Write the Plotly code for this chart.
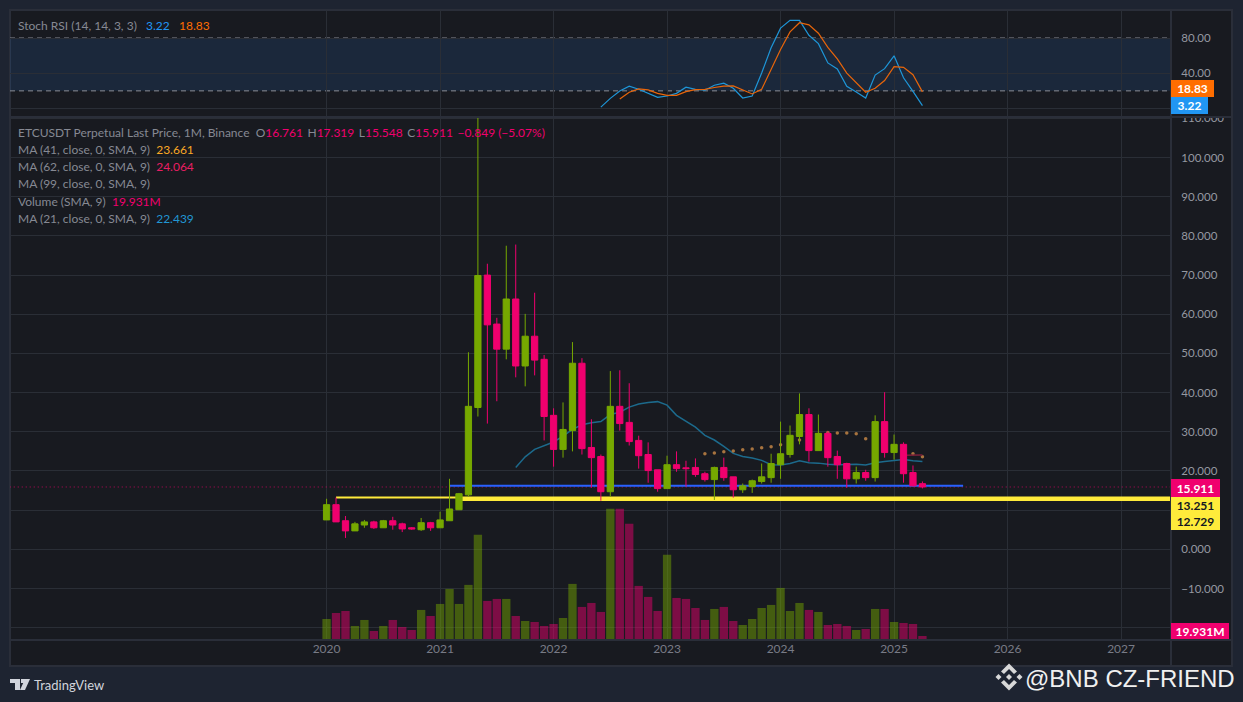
import plotly.graph_objects as go

W, H = 1243, 702

# monthly bars, Jan 2020 .. Apr 2025
months = [f"{y}-{m:02d}" for y in range(2020, 2026) for m in range(1, 13)][:64]
opens = [7.5, 11.4, 7.3, 4.7, 6.2, 7.0, 5.5, 7.3, 6.5, 5.5, 5.0, 6.8,
         5.5, 7.3, 10.1, 13.9, 36.2, 70.0, 57.5, 51.1, 63.9, 46.8, 54.4, 48.5,
         34.2, 25.5, 30.3, 47.5, 26.0, 23.7, 14.7, 36.5, 32.4, 27.8, 24.2, 20.3,
         15.5, 21.6, 20.8, 20.9, 19.3, 17.8, 20.9, 18.5, 15.2, 16.0, 17.3, 18.3,
         21.6, 24.2, 28.8, 34.4, 25.2, 29.6, 23.7, 21.9, 18.0, 19.6, 18.3, 32.6,
         24.7, 26.8, 19.6, 16.761]
highs = [12.9, 13.2, 8.5, 7.0, 7.5, 7.3, 7.5, 8.3, 6.8, 5.7, 8.0, 7.0,
         9.6, 18.0, 14.4, 50.3, 110.5, 72.9, 59.1, 77.5, 77.8, 60.1, 65.5, 49.6,
         36.0, 37.5, 52.9, 48.8, 33.2, 24.2, 45.5, 45.7, 42.4, 29.0, 27.3, 20.3,
         23.9, 25.0, 22.6, 23.2, 19.8, 21.1, 23.4, 18.5, 16.8, 17.8, 21.9, 24.4,
         32.6, 31.6, 39.8, 36.0, 34.4, 30.1, 25.2, 22.1, 21.1, 20.3, 34.2, 40.1,
         29.3, 27.3, 21.4, 17.319]
lows = [7.5, 7.0, 2.9, 4.7, 5.5, 5.2, 5.5, 5.0, 4.4, 5.0, 4.7, 4.7,
        5.5, 7.3, 10.1, 13.4, 33.9, 32.1, 37.8, 48.5, 43.9, 41.6, 44.4, 27.8,
        21.1, 23.4, 25.0, 24.2, 15.7, 12.4, 13.4, 30.3, 26.5, 20.6, 17.0, 14.7,
        15.5, 19.8, 16.0, 18.5, 17.3, 12.6, 17.5, 13.2, 14.4, 14.4, 16.8, 17.0,
        18.0, 23.4, 26.8, 22.4, 25.2, 21.1, 18.0, 15.7, 16.8, 17.5, 17.3, 23.4,
        22.9, 17.0, 16.0, 15.548]
closes = [11.4, 7.0, 4.7, 6.5, 7.0, 5.5, 7.3, 6.2, 5.2, 5.2, 6.8, 5.5,
          7.5, 10.3, 14.2, 36.5, 69.9, 57.3, 51.1, 63.9, 46.8, 54.4, 48.3, 33.9,
          25.5, 30.6, 47.5, 25.7, 23.4, 14.7, 36.5, 32.1, 27.5, 23.9, 20.1, 15.5,
          21.6, 20.6, 20.6, 19.1, 17.8, 20.9, 18.3, 15.2, 16.2, 17.5, 18.5, 21.9,
          24.4, 29.1, 34.4, 25.2, 29.6, 23.4, 21.6, 18.0, 19.6, 18.3, 32.6, 24.7,
          26.8, 19.3, 16.2, 15.911]
volumes = [47.5, 61.5, 66.2, 31.1, 45.2, 19.4, 31.1, 45.2, 28.8, 21.8, 68.6, 54.5,
           82.6, 117.7, 82.6, 127.1, 244.1, 89.6, 94.3, 94.3, 54.5, 42.8, 40.5, 31.1,
           35.8, 49.8, 129.4, 75.6, 84.9, 63.9, 304.9, 304.9, 269.8, 124.7, 99.0, 66.2,
           197.3, 96.6, 94.3, 73.2, 45.2, 70.9, 75.6, 42.8, 33.5, 47.5, 73.2, 80.3,
           120.0, 66.2, 84.9, 68.6, 63.9, 33.5, 35.8, 31.1, 21.8, 24.1, 70.9, 70.9,
           40.5, 38.1, 35.8, 7.7]

ma21 = [20.9, 23.6, 25.5, 26.5, 27.4, 28.9, 30.6, 31.8, 32.3, 32.6, 34.4, 35.0,
        36.3, 37.1, 37.5, 37.7, 36.8, 34.2, 32.6, 31.2, 29.1, 27.9, 26.3, 24.5,
        23.7, 23.3, 22.7, 21.6, 21.5, 21.9, 22.6, 22.1, 22.0, 21.7, 21.6, 21.7,
        21.7, 21.5, 22.1, 22.4, 22.7, 22.9, 22.6, 22.439]
ma41 = [24.4, 24.6, 24.9, 25.1, 25.4, 25.6, 25.9, 26.2, 26.7, 27.3, 27.9, 28.6,
        29.3, 29.8, 29.7, 29.7, 29.5, 28.2, 27.5, 26.6, 25.8, 25.0, 24.4, 23.661]
ma62 = [24.0, 24.1, 24.064]

stoch_k = [1.5, 11.5, 19.9, 25.3, 21.8, 17.2, 12.6, 14.2, 17.2, 24.1, 21.8, 20.7,
           26.4, 28.7, 23.0, 11.9, 14.2, 40.2, 69.0, 91.2, 100.0, 100.0, 83.1, 73.6,
           51.7, 44.8, 25.3, 18.8, 11.9, 37.9, 45.2, 59.8, 34.9, 19.5, 3.22]
stoch_d = [10.7, 18.4, 22.2, 21.1, 17.2, 14.9, 14.9, 19.2, 21.5, 21.8, 23.8, 25.3,
           25.7, 21.1, 16.5, 21.8, 44.8, 67.0, 87.0, 97.3, 95.0, 85.4, 69.3, 56.3,
           40.2, 29.5, 18.4, 23.0, 31.8, 47.5, 46.7, 38.3, 18.83]

# drawn levels: value, first month index, last month index
support_hi = (13.251, 1, 89.3)
support_lo = (12.729, 14, 89.3)
resistance = (16.2, 13, 67.3)
last_close = (15.911, -33.5, 89.3)

price_ticks = [110, 100, 90, 80, 70, 60, 50, 40, 30, 20, 10, 0, -10, -20]
price_labels = ["110.000", "100.000", "90.000", "80.000", "70.000", "60.000", "50.000",
                "40.000", "30.000", "20.000", "", "0.000", "\u221210.000", ""]
year_ticks = [0, 12, 24, 36, 48, 60, 72, 84]
year_labels = ["2020", "2021", "2022", "2023", "2024", "2025", "2026", "2027"]

GREEN = "#76a800"
PINK = "#f0006e"
GRID = "#2a2e36"
PANEL = "#181a20"
OUTER = "#1e2431"
FONT = "Lato"

# pixel helpers for the frame
def fx(x):
    return x / W

def fy(y):
    return 1 - y / H

x_idx = list(range(len(months)))
x_range = [-33.47, 89.28]
price_range = [-23.15, 110.36]
vol_range = [-1.6, 1219.8]
stoch_range = [-9.66, 111.8]

fig = go.Figure()

# horizontal levels and averages sit under the candles, so they get the base axis
fig.add_trace(go.Scatter(x=[last_close[1], last_close[2]], y=[last_close[0], last_close[0]], mode="lines",
                         line=dict(color="rgba(240,0,110,0.75)", width=1, dash="1px,3px"),
                         xaxis="x", yaxis="y"))
for level, color, width in [(resistance, "#2962ff", 2), (support_hi, "#ffeb3b", 2), (support_lo, "#ffeb3b", 3)]:
    fig.add_trace(go.Scatter(x=[level[1], level[2]], y=[level[0], level[0]], mode="lines",
                             line=dict(color=color, width=width), xaxis="x", yaxis="y"))
fig.add_trace(go.Scatter(x=x_idx[20:], y=ma21, mode="lines", line=dict(color="#1c6a8c", width=1.5),
                         xaxis="x", yaxis="y"))
fig.add_trace(go.Scatter(x=x_idx[40:], y=ma41, mode="markers",
                         marker=dict(color="#a8743f", size=3.5), xaxis="x", yaxis="y"))
fig.add_trace(go.Scatter(x=x_idx[61:], y=ma62, mode="lines", line=dict(color="#7a1f3a", width=1.5),
                         xaxis="x", yaxis="y"))

bar_colors = ["rgba(118,168,0,0.48)" if c >= o else "rgba(240,0,110,0.47)"
              for o, c in zip(opens, closes)]
fig.add_trace(go.Bar(x=x_idx, y=volumes, marker=dict(color=bar_colors, line_width=0),
                     xaxis="x", yaxis="y2"))

fig.add_trace(go.Candlestick(x=x_idx, open=opens, high=highs, low=lows, close=closes,
                             increasing=dict(line=dict(color=GREEN, width=1), fillcolor=GREEN),
                             decreasing=dict(line=dict(color=PINK, width=1), fillcolor=PINK),
                             whiskerwidth=0, xaxis="x", yaxis="y3"))

fig.add_trace(go.Scatter(x=x_idx[29:], y=stoch_k, mode="lines", line=dict(color="#1e96d8", width=1.2),
                         xaxis="x2", yaxis="y4"))
fig.add_trace(go.Scatter(x=x_idx[31:], y=stoch_d, mode="lines", line=dict(color="#e8650a", width=1.2),
                         xaxis="x2", yaxis="y4"))

shapes = [
    # page frame
    dict(type="rect", xref="paper", yref="paper", x0=fx(10), x1=fx(1232), y0=fy(666), y1=fy(10),
         fillcolor=PANEL, line=dict(color="#2a2e39", width=2), layer="below"),
    dict(type="line", xref="paper", yref="paper", x0=fx(10), x1=fx(1232), y0=fy(117), y1=fy(117),
         line=dict(color="#2a2e39", width=2), layer="above"),
    dict(type="line", xref="paper", yref="paper", x0=fx(10), x1=fx(1232), y0=fy(640), y1=fy(640),
         line=dict(color="#2a2e39", width=2), layer="above"),
    dict(type="line", xref="paper", yref="paper", x0=fx(1171), x1=fx(1171), y0=fy(666), y1=fy(10),
         line=dict(color="#2a2e39", width=2), layer="above"),
    # cuts the 110.000 tick at the pane edge
    dict(type="rect", xref="paper", yref="paper", x0=fx(1172), x1=fx(1231), y0=fy(116), y1=fy(108),
         fillcolor=PANEL, line_width=0, layer="above"),
    # stoch band
    dict(type="rect", xref="x2 domain", yref="y4", x0=0, x1=1, y0=20, y1=80,
         fillcolor="rgba(38,100,170,0.2)", line_width=0, layer="below"),
    dict(type="line", xref="x2 domain", yref="y4", x0=0, x1=1, y0=80, y1=80,
         line=dict(color="#8a8d96", width=1, dash="5px,4px"), layer="below"),
    dict(type="line", xref="x2 domain", yref="y4", x0=0, x1=1, y0=20, y1=20,
         line=dict(color="#8a8d96", width=1, dash="5px,4px"), layer="below"),
]

# small logos, as paper-space polygons
def poly(points, color):
    path = "M " + " L ".join(f"{fx(a):.5f},{fy(b):.5f}" for a, b in points) + " Z"
    return dict(type="path", xref="paper", yref="paper", path=path, fillcolor=color, line_width=0,
                layer="above")

LOGO = "#d1d4dc"
shapes += [
    poly([(10, 679), (20, 679), (20, 690), (15, 690), (15, 683), (10, 683)], LOGO),
    poly([(21, 679), (25, 679), (25, 683), (21, 683)], LOGO),
    poly([(25, 679), (30, 679), (25, 690), (20, 690)], LOGO),
]
bx, by = 1009, 677
BN = "#d8d8d8"
for dx, dy in [(0, 0), (-10.5, 0), (10.5, 0)]:
    shapes.append(poly([(bx + dx - 3, by + dy), (bx + dx, by + dy - 3),
                        (bx + dx + 3, by + dy), (bx + dx, by + dy + 3)], BN))
shapes += [
    poly([(bx, by - 13.5), (bx + 8, by - 5.5), (bx + 5, by - 3), (bx, by - 8), (bx - 5, by - 3), (bx - 8, by - 5.5)], BN),
    poly([(bx, by + 13.5), (bx + 8, by + 5.5), (bx + 5, by + 3), (bx, by + 8), (bx - 5, by + 3), (bx - 8, by + 5.5)], BN),
]

def text(t, x, y, color="#868993", size=12, family=FONT):
    return dict(xref="paper", yref="paper", x=fx(x), y=fy(y), xanchor="left", yanchor="middle",
                text=t, showarrow=False, font=dict(color=color, size=size, family=family))

def tag(t, x0, x1, y0, y1, bg, fg="#ffffff"):
    return dict(xref="paper", yref="paper", x=fx(x0), y=fy((y0 + y1) / 2), xanchor="left", yanchor="middle",
                text=f"<b>{t}</b>", showarrow=False, bgcolor=bg, width=x1 - x0, height=y1 - y0,
                align="center", valign="middle", borderpad=0, borderwidth=0,
                font=dict(color=fg, size=12, family=FONT))

def span(t, color):
    return f'<span style="color:{color}">{t}</span>'

sp = "\u00a0\u00a0"
sp_small = "\u00a0\u2009"
annotations = [
    text("Stoch RSI (14, 14, 3, 3)" + sp + "\u00a0" + span("3.22", "#2196f3") + sp + "\u00a0" + span("18.83", "#ff6d00"), 16, 25),
    text("ETCUSDT Perpetual Last Price, 1M, Binance" + sp + "O" + span("16.761", PINK) + sp_small + "H" + span("17.319", PINK)
         + sp_small + "L" + span("15.548", PINK) + sp_small + "C" + span("15.911", PINK) + sp_small
         + span("\u22120.849 (\u22125.07%)", PINK), 16, 132.5),
    text("MA (41, close, 0, SMA, 9)" + sp + span("23.661", "#f9a825"), 16, 149.5),
    text("MA (62, close, 0, SMA, 9)" + sp + span("24.064", "#e91e63"), 16, 166.5),
    text("MA (99, close, 0, SMA, 9)", 16, 183.5),
    text("Volume (SMA, 9)" + sp + span("19.931M", PINK), 16, 201),
    text("MA (21, close, 0, SMA, 9)" + sp + span("22.439", "#2196d3"), 16, 218),
    tag("18.83", 1171, 1214, 80, 97, "#ff6d00"),
    tag("3.22", 1171, 1208, 97, 114, "#2196f3"),
    tag("15.911", 1171, 1220, 479, 497, PINK),
    tag("13.251", 1171, 1220, 497, 513, "#ffeb3b", "#131722"),
    tag("12.729", 1171, 1220, 513, 530, "#ffeb3b", "#131722"),
    tag("19.931M", 1171, 1229, 623, 639, PINK),
    text("TradingView", 32, 684.5, color="#d1d4dc", size=13),
    text("@BNB CZ-FRIEND", 1023, 678.5, color="#f0f0f0", size=24, family="Liberation Sans"),
]

x_common = dict(range=x_range, domain=[fx(10), fx(1171)], showgrid=True, gridcolor=GRID, gridwidth=1,
                zeroline=False, tickmode="array", tickvals=year_ticks, showline=False, fixedrange=True)
price_common = dict(range=price_range, domain=[fy(640), fy(117)], zeroline=False, fixedrange=True)

fig.update_layout(
    width=W, height=H, margin=dict(l=0, r=0, t=0, b=0, autoexpand=False), paper_bgcolor=OUTER, plot_bgcolor=PANEL,
    showlegend=False, boxgap=0.34, boxgroupgap=0, bargap=0.12, hovermode=False,
    shapes=shapes, annotations=annotations,
    xaxis=dict(x_common, ticktext=year_labels, anchor="y", rangeslider=dict(visible=False),
               tickfont=dict(color="#787b86", size=12, family=FONT), ticks="", ticklen=0),
    xaxis2=dict(x_common, ticktext=[""] * 8, anchor="y4", showticklabels=False),
    yaxis=dict(price_common, side="right", anchor="x", showgrid=True, gridcolor=GRID, gridwidth=1,
               tickmode="array", tickvals=price_ticks, ticktext=price_labels,
               tickfont=dict(color="#9598a1", size=11.5, family=FONT), ticks="outside", ticklen=7,
               tickcolor="rgba(0,0,0,0)"),
    yaxis2=dict(range=vol_range, overlaying="y", anchor="x", visible=False, fixedrange=True),
    yaxis3=dict(range=price_range, overlaying="y", anchor="x", visible=False, fixedrange=True),
    yaxis4=dict(range=stoch_range, domain=[fy(117), fy(10)], side="right", anchor="x2", showgrid=True,
                gridcolor=GRID, gridwidth=1, zeroline=False, tickmode="array", tickvals=[80, 40, 0],
                ticktext=["80.00", "40.00", ""], fixedrange=True,
                tickfont=dict(color="#9598a1", size=11.5, family=FONT), ticks="outside", ticklen=7,
                tickcolor="rgba(0,0,0,0)"),
)

fig.write_html("out.html", config={"displayModeBar": False},
               post_script="document.body.style.margin='0'")
